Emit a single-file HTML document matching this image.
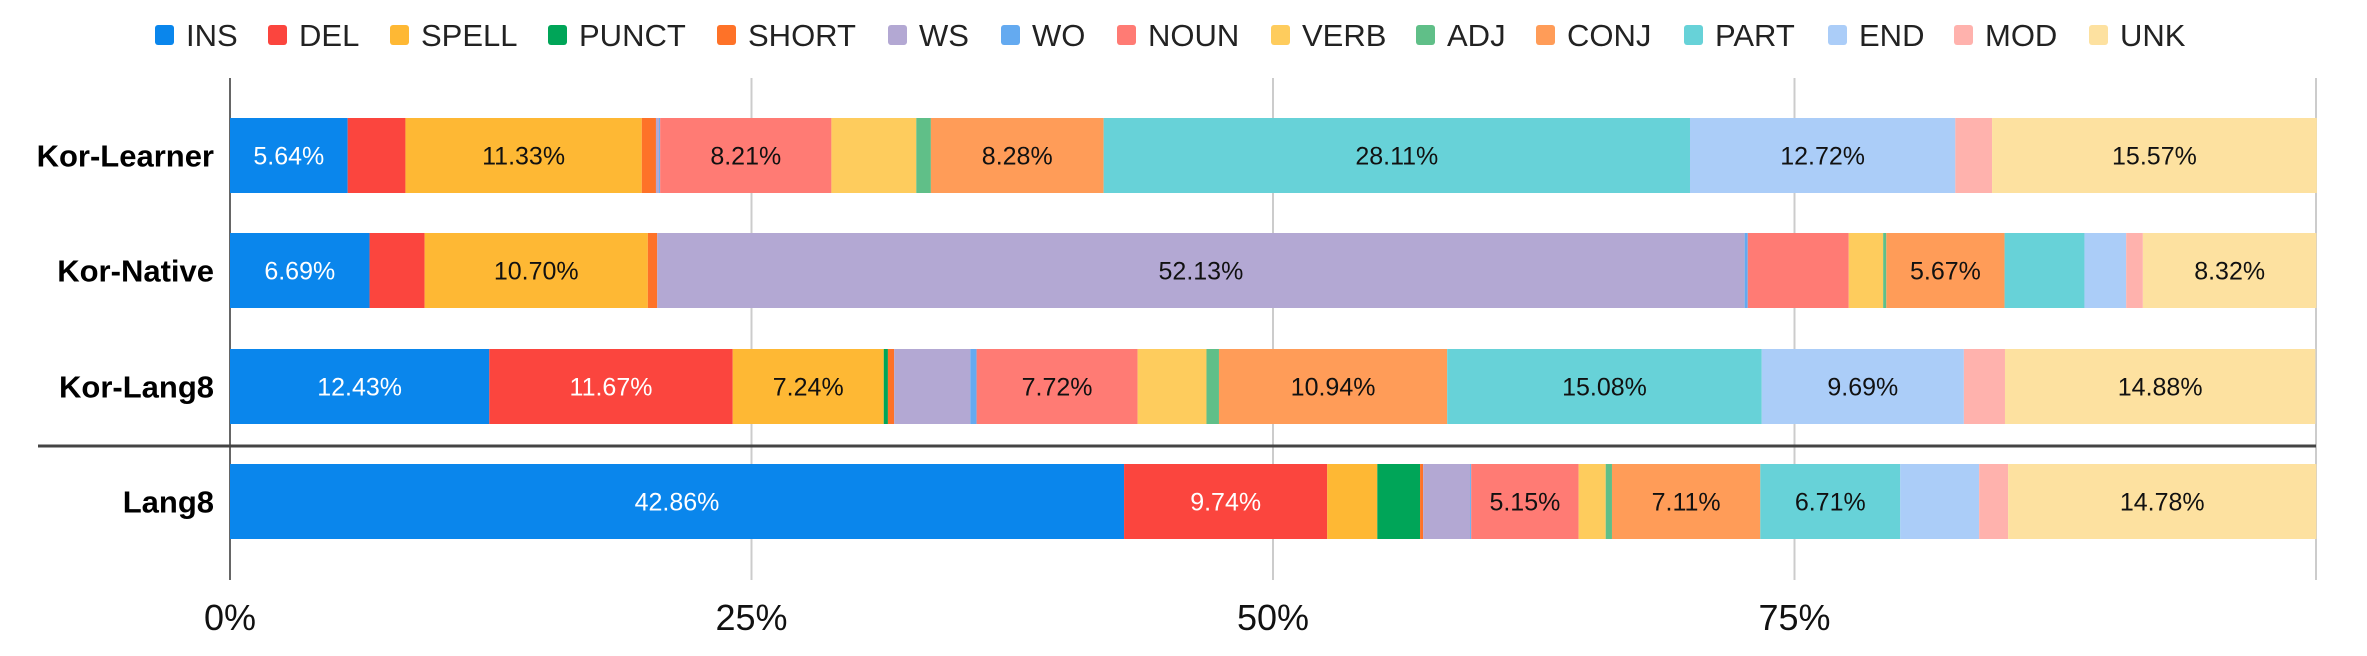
<!DOCTYPE html>
<html><head><meta charset="utf-8"><style>
html,body{margin:0;padding:0;background:#fff;}
svg{display:block;font-family:"Liberation Sans",Arial,sans-serif;}
</style></head><body>
<svg id="chart" width="2367" height="656" viewBox="0 0 2367 656" xmlns="http://www.w3.org/2000/svg">
<g id="grid"></g>
<g id="bars"></g>
<g id="legend"></g>
<g id="axes"></g>
</svg>
<script>
const categories = ["INS","DEL","SPELL","PUNCT","SHORT","WS","WO","NOUN","VERB","ADJ","CONJ","PART","END","MOD","UNK"];
const colors = ["#0a86ec","#fb453e","#feb834","#00a558","#fe7228","#b3a8d3","#64aaf0","#ff7b74","#fecc5d","#60bf88","#ff9c58","#67d2d8","#abcdf8","#ffb2ad","#fde1a0"];
const rowNames = ["Kor-Learner","Kor-Native","Kor-Lang8","Lang8"];
const korLearner = [5.64,2.77,11.33,0.0,0.68,0.15,0.05,8.21,4.07,0.70,8.28,28.11,12.72,1.76,15.57];
const korNative  = [6.69,2.64,10.70,0.0,0.45,52.13,0.15,4.84,1.65,0.15,5.67,3.83,2.00,0.80,8.32];
const korLang8   = [12.43,11.67,7.24,0.20,0.30,3.65,0.30,7.72,3.30,0.60,10.94,15.08,9.69,1.97,14.88];
const lang8      = [42.86,9.74,2.40,2.05,0.15,2.25,0.05,5.15,1.30,0.30,7.11,6.71,3.78,1.39,14.78];
const seriesRows = [korLearner,korNative,korLang8,lang8];
const tickValues = [0,25,50,75,100];
const tickLabels = ["0%","25%","50%","75%",""];

const NS="http://www.w3.org/2000/svg";
const X0=230, X1=2316;
const x = v => X0 + (X1-X0)*v/100;
const rowTop=[118,233,349,464], barH=75;
const y = i => rowTop[i];
function mk(tag, attrs, parent){const e=document.createElementNS(NS,tag);for(const k in attrs)e.setAttribute(k,attrs[k]);parent.appendChild(e);return e;}

const grid=document.getElementById('grid');
tickValues.forEach((t,i)=>{
  const l=mk('line',{x1:x(t),x2:x(t),y1:78,y2:580,stroke:t===0?'#333':'#ccc','stroke-width':t===0?1.5:2},grid);
  
  
  if(tickLabels[i]){
    const tx=mk('text',{x:x(t),y:630,'text-anchor':'middle','font-size':36,fill:'#111'},grid);
    tx.textContent=tickLabels[i];
    
    
  }
});

const bars=document.getElementById('bars');
seriesRows.forEach((row,ri)=>{
  let acc=0;
  const lab=mk('text',{x:214,y:y(ri)+barH/2+11,'text-anchor':'end','font-size':31,'font-weight':'bold',fill:'#000'},bars);
  lab.textContent=rowNames[ri];
  
  
  row.forEach((v,ci)=>{
    if(v<=0){return;}
    const r=mk('rect',{x:x(acc),y:y(ri),width:Math.max(0,x(acc+v)-x(acc)),height:barH,fill:colors[ci]},bars);
    
    
    if(v>=5){
      const t=mk('text',{x:(x(acc)+x(acc+v))/2,y:y(ri)+barH/2+9,'text-anchor':'middle','font-size':25,fill:(ci<2?'#fff':'#111')},bars);
      t.textContent=v.toFixed(2)+'%';
      
      
    }
    acc+=v;
  });
});

const axes=document.getElementById('axes');
const sep=mk('line',{x1:38,x2:X1,y1:446,y2:446,stroke:'#444','stroke-width':3},axes);



const legendX=[155,268,390,548,717,888,1001,1117,1271,1416,1536,1684,1828,1954,2089];
const legend=document.getElementById('legend');
categories.forEach((c,i)=>{
  const g=mk('g',{},legend);
  
  
  mk('rect',{x:legendX[i],y:25,width:19,height:20,rx:3,fill:colors[i]},g);
  const t=mk('text',{x:legendX[i]+31,y:46,'font-size':31,fill:'#222'},g);
  t.textContent=c;
});
</script>
</body></html>
